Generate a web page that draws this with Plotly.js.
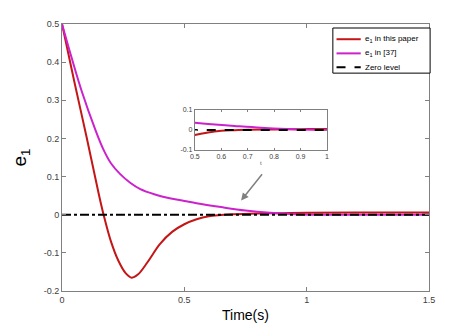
<!DOCTYPE html>
<html>
<head>
<meta charset="utf-8">
<script src="https://cdn.plot.ly/plotly-3.0.1.min.js"></script>
<style>html,body{margin:0;padding:0;background:#fff}#chart{width:474px;height:326px}</style>
</head>
<body>
<div id="chart"></div>
<script>
// Proposed controller e1
const tRed = [0, 0.05, 0.1, 0.15, 0.17, 0.2, 0.23, 0.26, 0.285, 0.31, 0.35, 0.4, 0.45, 0.5, 0.55, 0.6, 0.65, 0.7, 0.8, 0.9, 1.0, 1.2, 1.5];
const eRed = [0.5, 0.35, 0.205, 0.055, 0.0, -0.07, -0.12, -0.153, -0.165, -0.157, -0.124, -0.077, -0.045, -0.025, -0.012, -0.004, -0.001, 0.001, 0.003, 0.004, 0.005, 0.006, 0.006];
// Method of [37] e1
const tMag = [0, 0.04, 0.082, 0.135, 0.17, 0.2, 0.237, 0.28, 0.32, 0.38, 0.44, 0.5, 0.55, 0.65, 0.75, 0.85, 0.95, 1.05, 1.5];
const eMag = [0.5, 0.41, 0.321, 0.225, 0.17, 0.135, 0.107, 0.083, 0.067, 0.053, 0.043, 0.036, 0.03, 0.02, 0.011, 0.005, 0.0015, 0.0, 0.0];
// Zero level
const tZero = [0, 1.5];
const eZero = [0, 0];

const legendNames = ['e<sub>1</sub> in this paper', 'e<sub>1</sub> in [37]', 'Zero level'];
const xTickVals = [0, 0.5, 1, 1.5];
const xTickText = ['0', '0.5', '1', '1.5'];
const yTickVals = [-0.2, -0.1, 0, 0.1, 0.2, 0.3, 0.4, 0.5];
const yTickText = ['-0.2', '-0.1', '0', '0.1', '0.2', '0.3', '0.4', '0.5'];
const x2TickVals = [0.5, 0.6, 0.7, 0.8, 0.9, 1];
const x2TickText = ['0.5', '0.6', '0.7', '0.8', '0.9', '1'];
const y2TickVals = [-0.1, 0, 0.1];
const y2TickText = ['-0.1', '0', '0.1'];

const RED = '#c41616';
const MAG = '#cc22cc';
const FONT = 'Liberation Sans, Arial, sans-serif';

const traces = [
  {x: tRed, y: eRed, name: legendNames[0], mode: 'lines', line: {color: RED, width: 2, shape: 'spline', smoothing: 1}},
  {x: tMag, y: eMag, name: legendNames[1], mode: 'lines', line: {color: MAG, width: 2, shape: 'spline', smoothing: 1}},
  {x: tZero, y: eZero, name: legendNames[2], mode: 'lines', line: {color: '#000', width: 2, dash: 'dashdot'}},
  {x: tRed, y: eRed, xaxis: 'x2', yaxis: 'y2', showlegend: false, mode: 'lines', line: {color: RED, width: 2, shape: 'spline', smoothing: 1}},
  {x: tMag, y: eMag, xaxis: 'x2', yaxis: 'y2', showlegend: false, mode: 'lines', line: {color: MAG, width: 2, shape: 'spline', smoothing: 1}},
  {x: tZero, y: eZero, xaxis: 'x2', yaxis: 'y2', showlegend: false, mode: 'lines', line: {color: '#000', width: 2, dash: 'dash'}}
];

const axCommon = {
  showgrid: false, zeroline: false, showline: true, linecolor: '#808080', linewidth: 1,
  mirror: 'ticks', ticks: 'inside', ticklen: 4, tickcolor: '#808080',
  tickfont: {family: FONT, size: 9, color: '#404040'}
};

// manual legend (box, samples, labels)
const legColors = [RED, MAG, '#000'];
const legDash = ['solid', 'solid', 'dash'];
const legY = [0.943, 0.890, 0.838];
const shapes = [{type: 'rect', xref: 'paper', yref: 'paper', x0: 0.738, x1: 1.003, y0: 0.816, y1: 0.985,
  line: {color: '#000', width: 1}, fillcolor: '#fff', layer: 'above'}];
const annotations = [];
legendNames.forEach((nm, i) => {
  shapes.push({type: 'line', xref: 'paper', yref: 'paper', x0: 0.748, x1: 0.814, y0: legY[i], y1: legY[i],
    line: {color: legColors[i], width: 2, dash: legDash[i]}, layer: 'above'});
  annotations.push({xref: 'paper', yref: 'paper', x: 0.821, y: legY[i], xanchor: 'left', yanchor: 'middle',
    text: nm, showarrow: false, font: {family: FONT, size: 8, color: '#000'}});
});
annotations.push({
  x: 0.732, y: 0.037, xref: 'x', yref: 'y',
  ax: 0.83, ay: 0.116, axref: 'x', ayref: 'y',
  showarrow: true, arrowhead: 2, arrowsize: 1, arrowwidth: 1.5, arrowcolor: '#808080', text: ' '
});

const layout = {
  width: 474, height: 326,
  margin: {l: 62, r: 45, t: 24, b: 35},
  paper_bgcolor: '#fff', plot_bgcolor: '#fff',
  font: {family: FONT},
  showlegend: false,
  xaxis: Object.assign({}, axCommon, {
    domain: [0, 1], range: [0, 1.5], tickvals: xTickVals, ticktext: xTickText,
    title: {text: 'Time(s)', font: {size: 14, color: '#000'}, standoff: 6}
  }),
  yaxis: Object.assign({}, axCommon, {
    domain: [0, 1], range: [-0.2, 0.5], tickvals: yTickVals, ticktext: yTickText,
    title: {text: 'e<sub>1</sub>', font: {size: 19, color: '#000'}, standoff: 12}
  }),
  xaxis2: Object.assign({}, axCommon, {
    anchor: 'y2', domain: [0.362, 0.722], range: [0.5, 1], tickvals: x2TickVals, ticktext: x2TickText,
    ticklen: 2, tickfont: {family: FONT, size: 7, color: '#404040'},
    title: {text: 't', font: {size: 6, color: '#606060'}, standoff: 1}
  }),
  yaxis2: Object.assign({}, axCommon, {
    anchor: 'x2', domain: [0.528, 0.678], range: [-0.1, 0.1], tickvals: y2TickVals, ticktext: y2TickText,
    ticklen: 2, tickfont: {family: FONT, size: 7, color: '#404040'}
  }),
  shapes: shapes,
  annotations: annotations
};

Plotly.newPlot('chart', traces, layout, {staticPlot: true, displayModeBar: false});
</script>
</body>
</html>
